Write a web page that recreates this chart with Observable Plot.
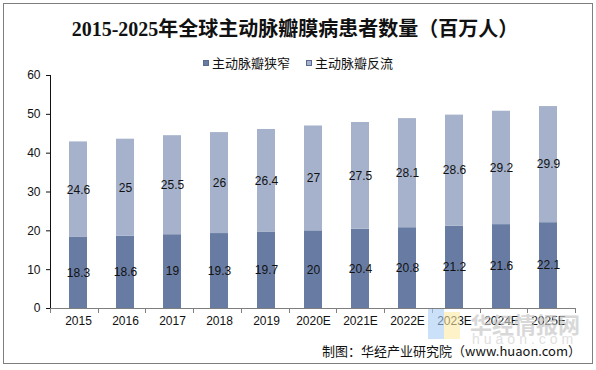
<!DOCTYPE html>
<html>
<head>
<meta charset="utf-8">
<script src="https://cdn.jsdelivr.net/npm/d3@7"></script>
<script src="https://cdn.jsdelivr.net/npm/@observablehq/plot@0.6"></script>
<style>
  html, body { margin: 0; padding: 0; background: #fff; }
  #wrap { position: relative; width: 596px; height: 370px; overflow: hidden; background: #fff;
          font-family: Arial, "Liberation Sans", "Noto Sans CJK SC", sans-serif; }
  #frame { position: absolute; left: 3px; top: 3px; width: 590px; height: 361px; border: 1px solid #7f7f7f; box-sizing: border-box; }
  #title { position: absolute; left: 0; width: 590px; top: 13px; text-align: center; white-space: nowrap;
           font-family: "Liberation Serif", "Noto Sans CJK SC", serif; font-weight: bold; font-size: 20px; color: #111; }
  #legend { position: absolute; top: 53px; left: 0; width: 596px; text-align: center; font-size: 13px; color: #111;
            font-family: "Noto Sans CJK SC", sans-serif; }
  #legend span.item { margin: 0 8px; }
  #legend i { display: inline-block; width: 6px; height: 6px; margin-right: 3px; vertical-align: 2px; border: 1px solid #5a6b8f; box-sizing: border-box; }
  #caption { position: absolute; right: 15px; top: 341px; font-size: 13px; color: #111;
             font-family: "Noto Sans CJK SC", sans-serif; }
  #wm { position: absolute; left: 470px; top: 307px; color: #c8c8c8; font-weight: bold; font-size: 22px;
        font-family: "Noto Sans CJK SC", sans-serif; opacity: 0.7; }
  #wm2 { position: absolute; left: 472px; top: 331px; color: #d8d8d8; font-size: 14px; letter-spacing: 4px; opacity: 0.8; }
  #logo1 { position: absolute; left: 428px; top: 309px; width: 16px; height: 30px; background: #a8cdf5; opacity: 0.6; }
  #logo2 { position: absolute; left: 444px; top: 312px; width: 16px; height: 27px; background: #fbe9a4; opacity: 0.6; }
  svg { position: absolute; left: 0; top: 0; }
</style>
</head>
<body>
<div id="wrap">
  <div id="frame"></div>
  <div id="title">2015-2025年全球主动脉瓣膜病患者数量（百万人）</div>
  <div id="legend"></div>
  <div id="chart"></div>
  <div id="logo1"></div><div id="logo2"></div>
  <div id="wm">华经情报网</div>
  <div id="wm2">huaon.com</div>
  <div id="caption">制图：华经产业研究院（www.huaon.com）</div>
</div>
<script>
const years = ["2015","2016","2017","2018","2019","2020E","2021E","2022E","2023E","2024E","2025E"];
const seriesNames = ["主动脉瓣狭窄", "主动脉瓣反流"];
const stenosis = [18.3, 18.6, 19, 19.3, 19.7, 20, 20.4, 20.8, 21.2, 21.6, 22.1];
const regurgitation = [24.6, 25, 25.5, 26, 26.4, 27, 27.5, 28.1, 28.6, 29.2, 29.9];
const yTicks = [0, 10, 20, 30, 40, 50, 60];
const colors = ["#687ca3", "#a6b2cb"];

const data = [];
years.forEach((y, i) => {
  data.push({year: y, series: seriesNames[0], value: stenosis[i]});
  data.push({year: y, series: seriesNames[1], value: regurgitation[i]});
});

const legend = document.getElementById("legend");
legend.innerHTML = seriesNames.map((s, i) =>
  `<span class="item"><i style="background:${colors[i]}"></i>${s}</span>`).join("");

const chart = Plot.plot({
  width: 596,
  height: 370,
  marginLeft: 50,
  marginRight: 21,
  marginTop: 75,
  marginBottom: 62,
  style: {fontFamily: "Arial, 'Liberation Sans', sans-serif", fontSize: "12px", color: "#111", background: "transparent"},
  x: {domain: years, paddingInner: 0.62, paddingOuter: 0.31, label: null, tickSize: 0, tickPadding: 8},
  y: {domain: [0, 60], ticks: yTicks, label: null, tickSize: 4, tickPadding: 6, line: true},
  color: {domain: seriesNames, range: colors},
  marks: [
    Plot.barY(data, Plot.stackY({x: "year", y: "value", fill: "series", order: null})),
    Plot.text(data, Plot.stackY({x: "year", y: "value", z: "series", order: null,
      text: d => String(d.value), fill: "#111", fontSize: 12})),
    Plot.ruleY([0], {stroke: "#7f7f7f"})
  ]
});
document.getElementById("chart").appendChild(chart);

// boundary ticks on the x axis, derived from the x scale
const sx = chart.scale("x");
const sy = chart.scale("y");
const step = (sx.range[1] - sx.range[0]) / sx.domain.length;
const y0 = sy.apply ? sy.apply(0) : 308;
const svg = d3.select(chart);
const g = svg.append("g").attr("stroke", "#7f7f7f");
const x0 = sx.range[0];
for (let i = 0; i <= years.length; i++) {
  const xx = Math.round(x0 + i * step) + 0.5;
  g.append("line").attr("x1", xx).attr("x2", xx).attr("y1", y0).attr("y2", y0 + 5);
}
</script>
</body>
</html>
